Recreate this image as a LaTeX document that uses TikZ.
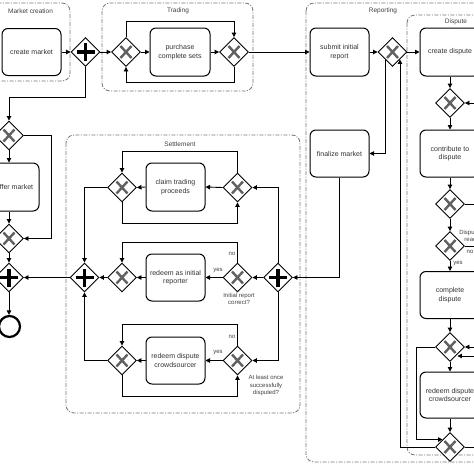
\documentclass[tikz,border=0pt]{standalone}
\usepackage{fontspec}
\setmainfont{Liberation Sans}
\usetikzlibrary{shapes.geometric,arrows.meta,calc}
\begin{document}
\begin{tikzpicture}[x=1pt,y=-1pt,
 conn/.style={line width=0.9pt,-{Triangle[length=4.5pt,width=4.5pt]}},
 ln/.style={line width=0.9pt},
 task/.style={draw,line width=1pt,rounded corners=6pt,minimum width=59pt,minimum height=47pt,align=center,font=\fontsize{7}{8.5}\selectfont,text=black!80,inner sep=1pt,fill=white},
 gw/.style={diamond,draw,line width=0.9pt,minimum width=29pt,minimum height=29pt,inner sep=0pt,aspect=1,fill=white},
 xgw/.style={gw,path picture={
   \draw[black!62,line width=2.4pt] ($(path picture bounding box.center)+(-5.5pt,-6pt)$) -- ($(path picture bounding box.center)+(5.5pt,6pt)$);
   \draw[black!62,line width=2.4pt] ($(path picture bounding box.center)+(-5.5pt,6pt)$) -- ($(path picture bounding box.center)+(5.5pt,-6pt)$);}},
 pgw/.style={gw,path picture={
   \draw[black,line width=3.2pt] ($(path picture bounding box.center)+(-9pt,0pt)$) -- ($(path picture bounding box.center)+(9pt,0pt)$);
   \draw[black,line width=3.2pt] ($(path picture bounding box.center)+(0pt,-9pt)$) -- ($(path picture bounding box.center)+(0pt,9pt)$);}},
 grp/.style={draw=black!55,line width=0.8pt,dash pattern=on 4pt off 1.5pt on 1pt off 1.5pt,rounded corners=8pt},
 glab/.style={font=\fontsize{6.5}{8}\selectfont,text=black!75,inner sep=0pt},
 lab/.style={font=\fontsize{6}{7.5}\selectfont,text=black!75,align=center,inner sep=0.5pt},
 endev/.style={circle,draw,line width=2.2pt,minimum size=21pt,inner sep=0pt}
]
\useasboundingbox (0,0) rectangle (474,474);
\clip (0,0) rectangle (474,474);

% groups
\draw[grp] (-20,3) rectangle (70,81);
\node[glab] (gMC) at (30.5,11) {Market creation};
\draw[grp] (102,3) rectangle (253,91);
\node[glab] (gTR) at (178,11) {Trading};
\draw[grp] (306,3) rectangle (520,462);
\node[glab] (gRP) at (383,11) {Reporting};
\draw[grp] (407,15) rectangle (520,455);
\node[glab] (gDS) at (456,22) {Dispute};
\draw[grp] (66,135) rectangle (300,413);
\node[glab] (gST) at (180,144) {Settlement};

% top row
\node[task] (cm) at (31.5,52) {create market};
\node[pgw] (pg) at (85.5,52) {};
\node[xgw] (t1) at (126,52) {};
\node[task,minimum width=60pt,minimum height=48pt] (pcs) at (180,52) {purchase\\complete sets};
\node[xgw] (t2) at (234,52) {};
\node[task,minimum height=48pt] (sir) at (339.5,52) {submit initial\\report};
\node[xgw] (xr) at (392.5,52) {};
\node[task,minimum width=60pt,minimum height=48pt] (cdsp) at (450,52) {create dispute};
\node[task,minimum height=47pt] (fm) at (339.5,153.5) {finalize market};

% left column
\node[xgw] (x1) at (9,135.5) {};
\node[task,minimum width=49pt,minimum height=48pt] (om) at (14.5,187) {offer market};
\node[xgw] (x2) at (9,238.5) {};
\node[pgw] (pl) at (9,277.5) {};
\node[endev] (ee) at (9.5,326.5) {};

% settlement
\node[pgw] (ps) at (84.5,277.5) {};
\node[pgw] (pr) at (278,277.5) {};
\node[xgw] (xa) at (122,187.5) {};
\node[task,minimum height=48pt] (ct) at (175.5,187) {claim trading\\proceeds};
\node[xgw] (xb) at (237.5,187.5) {};
\node[xgw] (xd) at (122,277.5) {};
\node[task,minimum height=47pt] (ri) at (175.5,277.5) {redeem as initial\\reporter};
\node[xgw] (xc) at (237.5,277.5) {};
\node[xgw] (xf) at (122,360.5) {};
\node[task,minimum height=47pt] (rdc) at (175.5,360.5) {redeem dispute\\crowdsourcer};
\node[xgw] (xe) at (237.5,360.5) {};

% dispute column
\node[xgw] (d1) at (450,103) {};
\node[task,minimum width=60pt,minimum height=47pt] (ctd) at (450,153.5) {contribute to\\dispute};
\node[xgw] (d2) at (450,204) {};
\node[xgw] (d3) at (450,246) {};
\node[task,minimum width=60pt,minimum height=47pt] (cd) at (450,295) {complete\\dispute};
\node[xgw] (d4) at (450,347) {};
\node[task,minimum width=60pt,minimum height=46pt] (rdd) at (450,395) {redeem dispute\\crowdsourcer};
\node[xgw] (d5) at (450,447) {};

% labels
\node[lab] (lyes1) at (218,271) {yes};
\node[lab] (lno1) at (232,254) {no};
\node[lab] (lq1) at (239,299) {Initial report\\correct?};
\node[lab] (lyes2) at (218,353) {yes};
\node[lab] (lno2) at (232,337) {no};
\node[lab] (lq2) at (266,385.5) {At least once\\successfully\\disputed?};
\node[lab] (lq3) at (477,236) {Dispute bond\\reached?};
\node[lab] (lno3) at (470,251.5) {no};
\node[lab] (lyes3) at (458,264) {yes};

% off-image coordinates
\coordinate (o1) at (490,103);
\coordinate (o3) at (490,246);
\coordinate (o4) at (490,347);
\coordinate (o5) at (490,356);
\coordinate (o6) at (490,447);

% top connectors
\draw[conn] (cm.east) -- (pg.west);
\draw[conn] (pg.east) -- (t1.west);
\draw[conn] (t1.east) -- (pcs.west);
\draw[conn] (pcs.east) -- (t2.west);
\draw[conn] (t1.north) -- ++(0,-16) -| (t2.north);
\draw[conn] (t2.south) -- ++(0,15) -| (t1.south);
\draw[conn] (t2.east) -- (sir.west);
\draw[conn] (sir.east) -- (xr.west);
\draw[conn] (xr.east) -- (cdsp.west);
\draw[conn] (xr.south west) |- (fm.east);
\draw[conn] (fm.south) |- (pr.east);

% left column
\draw[conn] (pg.south) -- ++(0,30) -| (x1.north);
\draw[conn] (x1.east) -- ++(27,0) |- (x2.east);
\draw[conn] (x1.south) -- (x1.south |- om.north);
\draw[conn] (x2.north |- om.south) -- (x2.north);
\draw[conn] (x2.south) -- (pl.north);
\draw[conn] (pl.south) -- (pl.south |- ee.north);

% settlement
\draw[conn] (pr.north) |- (xb.east);
\draw[conn] (xb.west) -- (ct.east);
\draw[conn] (ct.west) -- (xa.east);
\draw[conn] (xa.west) -| (ps.north);
\draw[conn] (xb.north) -- ++(0,-21) -| (xa.north);
\draw[conn] (xa.south) -- ++(0,21) -| (xb.south);
\draw[conn] (pr.west) -- (xc.east);
\draw[conn] (xc.west) -- (ri.east);
\draw[conn] (xc.north) -- ++(0,-20) -| (xd.north);
\draw[conn] (ri.west) -- (xd.east);
\draw[conn] (xd.west) -- (ps.east);
\draw[conn] (ps.west) -- (pl.east);
\draw[conn] (pr.south) |- (xe.east);
\draw[conn] (xe.west) -- (rdc.east);
\draw[conn] (xe.north) -- ++(0,-21) -| (xf.north);
\draw[conn] (rdc.west) -- (xf.east);
\draw[conn] (xf.west) -| (ps.south);
\draw[conn] (xf.south) -- ++(0,21) -| (xe.south);

% dispute column
\draw[conn] (cdsp.south) -- (d1.north);
\draw[conn] (o1) -- (d1.east);
\draw[conn] (d1.south) -- (ctd.north);
\draw[conn] (ctd.south) -- (d2.north);
\draw[ln] (d2.east) -- ++(40,0);
\draw[conn] (d2.south) -- (d3.north);
\draw[ln] (d3.east) -- (o3);
\draw[conn] (d3.south) -- (cd.north);
\draw[conn] (cd.south) -- (d4.north);
\draw[conn] (o4) -- (d4.east);
\draw[conn] (o5) -- (o5 -| d4.south east);
\draw[conn] (d4.south) -- (rdd.north);
\draw[conn] (rdd.south) -- (d5.north);
\draw[conn] (d4.west) -- ++(-19,0) |- (d5.north west);
\draw[ln] (d5.east) -- (o6);
\draw[conn] (d5.west) -| (xr.south east);
\end{tikzpicture}
\end{document}
